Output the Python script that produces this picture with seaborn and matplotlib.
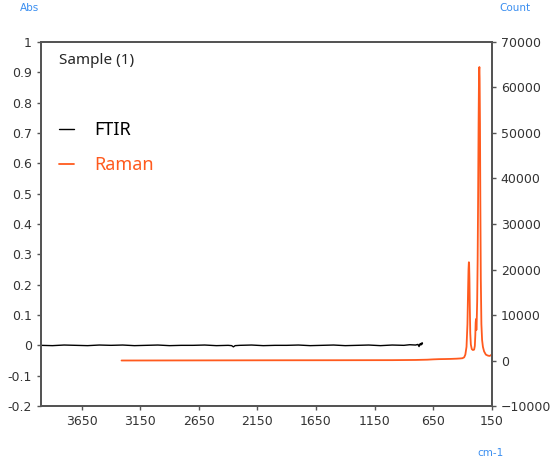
import matplotlib
matplotlib.use("Agg")
import matplotlib.pyplot as plt
import seaborn as sns
import pandas as pd

# FTIR absorbance
ftir_wn = [4000, 3900, 3800, 3700, 3600, 3500, 3400, 3300, 3200, 3100, 3000,
           2900, 2800, 2700, 2600, 2500, 2400, 2370, 2355, 2340, 2300, 2200,
           2100, 2000, 1900, 1800, 1700, 1600, 1500, 1400, 1300, 1200, 1100,
           1000, 900, 850, 800, 780, 770, 765, 760, 755, 750, 746, 743, 741]
ftir_abs = [0.000, -0.001, 0.001, 0.000, -0.001, 0.001, 0.000, 0.001, -0.001,
            0.000, 0.001, -0.001, 0.000, 0.000, 0.001, -0.001, 0.000, -0.001,
            -0.005, -0.001, 0.000, 0.001, -0.001, 0.000, 0.000, 0.001, -0.001,
            0.000, 0.001, -0.001, 0.000, 0.001, -0.001, 0.001, 0.000, 0.002,
            0.001, 0.003, -0.004, 0.004, 0.001, 0.006, 0.002, 0.008, 0.005,
            0.007]

# Raman counts
raman_wn = [3310, 3000, 2500, 2000, 1500, 1000, 800, 700, 650, 600, 550, 500,
            450, 420, 400, 385, 375, 365, 357, 352, 348, 345, 343, 340, 337,
            333, 328, 320, 310, 300, 294, 290, 287, 284, 281, 278, 274, 270,
            266, 262, 259, 257, 255, 253, 250, 247, 243, 238, 232, 225, 215,
            200, 185, 170, 160, 150]
raman_cnt = [0, 10, 30, 50, 60, 80, 120, 180, 250, 300, 320, 350,
             400, 450, 500, 700, 1300, 3000, 8000, 15000, 20000, 21600,
             21500, 18000, 12000, 6000, 3500, 2500, 2300, 2400, 3200, 5500,
             8300, 9100, 6700, 8500, 13000, 22000, 36000, 52000, 61000, 64000,
             64500, 62000, 52000, 35000, 18000, 8000, 4500, 3000, 2000,
             1300, 1100, 1000, 1100, 1300]

ftir = pd.DataFrame({"wn": ftir_wn, "abs": ftir_abs})
raman = pd.DataFrame({"wn": raman_wn, "cnt": raman_cnt})

orange = "#FF5A1E"
blue = "#3A8EF0"
spine_c = "#555555"
label_c = "#333333"

sns.set_theme(style="ticks")
plt.rcParams["font.family"] = ["DejaVu Sans"]

fig = plt.figure(figsize=(5.5, 4.62), dpi=100)
ax = fig.add_axes([0.074, 0.1212, 0.82, 0.7879])
ax2 = ax.twinx()

sns.lineplot(data=ftir, x="wn", y="abs", ax=ax, color="black", lw=1.0,
             sort=False, label="FTIR", legend=False)
sns.lineplot(data=raman, x="wn", y="cnt", ax=ax2, color=orange, lw=1.3,
             sort=False, label="Raman", legend=False)

ax.set_xlim(4000, 150)
ax.set_ylim(-0.2, 1.0)
ax2.set_ylim(-10000, 70000)
ax.set_xticks([3650, 3150, 2650, 2150, 1650, 1150, 650, 150])
ax.set_yticks([-0.2, -0.1, 0, 0.1, 0.2, 0.3, 0.4, 0.5, 0.6, 0.7, 0.8, 0.9, 1])
ax.set_yticklabels(["-0.2", "-0.1", "0", "0.1", "0.2", "0.3", "0.4", "0.5",
                    "0.6", "0.7", "0.8", "0.9", "1"])
ax2.set_yticks(range(-10000, 70001, 10000))
ax.set_xlabel("")
ax.set_ylabel("")
ax2.set_ylabel("")

for a in (ax, ax2):
    for s in a.spines.values():
        s.set_color(spine_c)
        s.set_linewidth(1.4)
    a.tick_params(colors=spine_c, labelcolor=label_c, labelsize=9,
                  length=3, width=1, direction="out")

fig.text(20 / 550, 1 - 8 / 462, "Abs", color=blue, fontsize=7.5,
         ha="left", va="center")
fig.text(515 / 550, 1 - 8 / 462, "Count", color=blue, fontsize=7.5,
         ha="center", va="center")
fig.text(491 / 550, 1 - 453 / 462, "cm-1", color=blue, fontsize=7.5,
         ha="center", va="center")

ax.text(0.04, 0.95, "Sample (1)", transform=ax.transAxes, fontsize=11,
        family=["Noto Sans", "DejaVu Sans"], ha="left", va="center")

handles = ax.get_lines()[:1] + ax2.get_lines()[:1]
leg = ax2.legend(handles, ["FTIR", "Raman"], loc="upper left",
                 bbox_to_anchor=(0.0056, 0.827), frameon=False,
                 prop={"family": ["Noto Sans", "DejaVu Sans"], "size": 13},
                 handlelength=0.8, handletextpad=1.1, labelspacing=0.92)
for txt, c in zip(leg.get_texts(), ["black", orange]):
    txt.set_color(c)

fig.savefig("out.png", dpi=100)
